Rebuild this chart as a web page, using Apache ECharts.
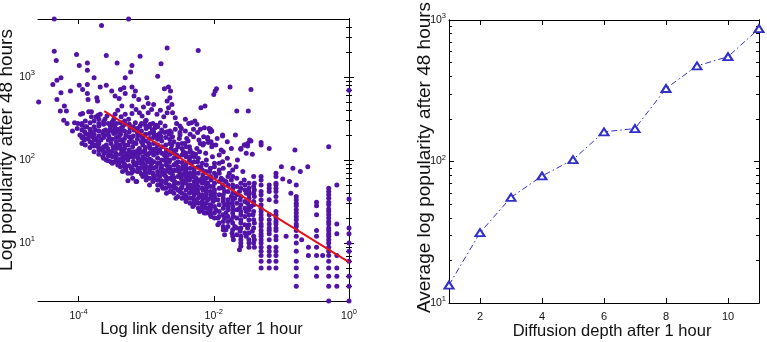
<!DOCTYPE html>
<html>
<head>
<meta charset="utf-8">
<script src="https://cdn.jsdelivr.net/npm/echarts@6.0.0/dist/echarts.min.js"></script>
<style>
  html, body { margin: 0; padding: 0; background: #fff; }
  #chart { width: 767px; height: 342px; }
</style>
</head>
<body>
<div id="chart"></div>
<script>
// left panel: values are log10(link density), log10(popularity)
const densityTicks = [-4, -2, 0];
const popularityTicks = [1, 2, 3];
const fitLine = [[-3.62, 2.59], [0, 0.77]];

const sparsePosts = [
  [-4.36,3.70],[-3.26,3.70],[-3.66,3.62],[-4.36,3.31],[-4.33,3.20],[-4.03,3.27],[-3.59,3.26],[-2.69,3.35],
  [-2.23,3.32],[-3.09,3.25],[-3.99,3.14],[-3.87,3.17],[-3.87,3.08],[-3.21,3.14],[-3.43,3.17],[-2.78,3.16],
  [-3.23,3.06],[-4.26,2.99],[-4.32,2.96],[-4.38,2.91],[-3.77,2.99],[-3.31,2.99],[-2.83,3.01],[-4.59,2.70],
  [-4.26,2.81],[-4.32,2.73],[-4.21,2.65],[-4.12,2.83],[-3.99,2.90],[-3.94,2.85],[-3.87,2.91],[-3.87,2.80],
  [-3.86,2.73],[-3.73,2.75],[-3.72,2.71],[-3.68,2.88],[-3.59,2.90],[-3.51,2.83],[-3.46,2.77],[-3.40,2.74],
  [-3.38,2.85],[-3.33,2.87],[-3.31,2.80],[-3.21,2.88],[-3.16,2.83],[-3.18,2.77],[-3.11,2.73],[-2.99,2.75],
  [-2.97,2.68],[-2.67,2.88],[-2.64,2.83],[-2.65,2.75],[-2.69,2.71],[-2.62,2.67],[-2.73,2.86],[-2.00,2.79],
  [-1.98,2.83],[-1.96,2.86],[-1.76,2.88],[-1.45,2.85],[0,2.84],[-2.19,2.63],[-2.13,2.65],[-1.66,2.59],[-1.49,2.59],
  [-4.27,2.59],[-4.18,2.59],[-4.22,2.48],[-4.17,2.44],[-4.09,2.35],[-4.06,2.45],[-4.01,2.44],[-3.97,2.55],
  [-3.94,2.56],[-3.85,2.58],[-3.81,2.58],[-3.81,2.52],[-3.74,2.52],[-3.71,2.54]
];

const cloudPosts = [
  [-3.91,2.34],[-3.89,2.31],[-3.84,2.32],[-3.81,2.34],[-3.94,2.28],[-3.86,2.26],[-3.79,2.28],[-3.74,2.26],
  [-3.71,2.22],[-3.67,2.24],[-3.64,2.32],[-3.62,2.30],[-3.71,2.16],[-3.69,2.14],[-3.64,2.12],[-3.59,2.18],
  [-3.57,2.14],[-3.52,2.20],[-3.49,2.16],[-3.44,2.22],[-3.39,2.18],[-3.34,2.22],[-3.32,2.14],[-3.27,2.18],
  [-3.25,2.12],[-3.20,2.16],[-3.15,2.20],[-3.10,2.14],[-3.05,2.18],[-3.02,2.12],[-3.64,2.04],[-3.59,2.00],
  [-3.52,2.06],[-3.44,2.02],[-3.34,2.04],[-3.27,2.00],[-3.20,2.06],[-3.12,2.02],[-3.05,2.04],
  [-3.68,2.55],[-3.61,2.49],[-3.58,2.53],[-3.53,2.41],[-3.48,2.49],[-3.46,2.55],[-3.42,2.60],[-3.37,2.52],
  [-3.36,2.65],[-3.31,2.55],[-3.26,2.49],[-3.21,2.56],[-3.21,2.65],[-3.15,2.61],[-3.10,2.57],[-3.06,2.53],
  [-3.04,2.64],[-2.97,2.57],[-2.92,2.61],[-2.89,2.67],[-2.84,2.55],[-2.79,2.60],[-2.74,2.52],[-2.69,2.57],
  [-2.67,2.63],[-2.61,2.57],[-2.57,2.51],[-2.55,2.44],[-2.50,2.41],[-2.42,2.49],[-2.37,2.44],[-2.33,2.45],
  [-2.28,2.47],[-2.25,2.43],[-2.20,2.37],[-2.14,2.39],[-2.06,2.37],[-2.04,2.35],[-2.30,2.37],[-3.53,2.37],
  [-3.46,2.39],[-3.38,2.35],[-3.31,2.43],[-3.24,2.39],[-3.16,2.45],[-3.09,2.41],[-3.01,2.47],[-2.94,2.43],
  [-2.87,2.39],[-2.79,2.45],[-2.72,2.41],[-2.65,2.35],[-2.57,2.37],[-2.50,2.33],[-2.42,2.35],[-2.35,2.31],
  [-3.55,2.28],[-3.48,2.32],[-3.40,2.28],[-3.30,2.30],[-3.22,2.26],[-3.12,2.30],[-3.05,2.26],[-3.60,2.36],
  [-3.35,2.40],[-3.18,2.36],[-3.00,2.38],[-3.45,2.08],[-3.36,2.10],[-3.28,2.06],[-3.15,2.08],[-3.08,1.96],
  [-3.18,1.94],[-3.30,1.92],[-3.40,1.96],[-3.52,1.98],[-3.62,2.08],[-3.75,2.18],[-3.80,2.20],[-3.92,2.24],
  [-3.98,2.30],[-4.02,2.38],[-3.95,2.42],[-3.88,2.40],[-3.70,2.44],[-3.75,2.36],[-3.10,1.86],[-3.02,1.90],
  [-3.22,1.84],[-3.35,1.86],[-2.92,1.96],[-3.05,1.80],[-3.20,1.78],
  [-3.47,1.98],[-3.42,1.94],[-3.34,1.98],[-3.32,1.92],[-3.30,1.88],[-3.27,1.84],[-3.22,1.90],[-3.20,1.86],
  [-3.15,1.94],[-3.12,1.90],[-3.05,1.96],[-3.02,1.88],[-3.15,1.74],[-3.00,1.76],[-3.27,1.75],
  [-3.00,2.48],[-2.90,2.44],[-2.85,2.42],[-2.83,2.40],[-2.91,2.36],[-2.88,2.30],[-2.80,2.32],[-2.78,2.28],
  [-2.73,2.33],[-2.69,2.34],[-2.66,2.31],[-2.63,2.33],[-2.61,2.28],[-2.48,2.38],[-2.50,2.30],[-2.51,2.26],
  [-2.38,2.23],[-2.43,2.20],[-2.36,2.16],[-2.24,2.33],[-2.07,2.38],[-2.05,2.34],[-2.09,2.25],[-2.04,2.22],
  [-2.02,2.18],[-1.87,2.30],[-2.20,2.20],[-2.16,2.18],[-2.21,2.10],[-1.97,2.18],[-1.89,2.12],[-1.86,2.10],
  [-1.74,2.14],[-1.60,2.13],[-1.55,2.18],[-1.50,2.20],[-1.52,2.08],[-1.43,2.07],[-2.31,2.08],[-2.27,2.07],
  [-2.96,2.20],[-2.94,2.14],[-2.90,2.10],[-2.85,2.14],[-2.80,2.12],[-2.73,2.06],[-2.70,2.12],[-2.63,2.14],
  [-2.59,2.08],[-2.56,2.12],[-2.53,2.16],[-2.36,2.00],[-2.41,2.04],
  [-2.05,2.37],[-2.03,2.35],[-2.09,2.27],[-2.08,2.21],[-2.15,2.20],[-2.03,2.16],[-1.87,2.29],[-1.47,2.24],
  [-1.30,2.21],[-1.30,2.18],[-1.18,2.14],[-1.60,2.14],[-1.54,2.18],[-0.80,2.12],[-1.50,2.17],[-1.45,2.23],
  [-3.10,2.08],[-2.98,2.06],[-2.84,2.08],[-2.70,2.04],[-2.55,2.06],[-2.45,2.10],[-2.35,2.12],[-2.25,2.14],
  [-2.12,2.08],[-2.02,2.04],[-1.92,2.06],[-1.80,2.02],[-1.65,2.00],[-2.62,2.18],[-2.47,2.20],[-2.22,2.24],
  [-2.15,2.28],[-1.95,2.26],[-1.80,2.22],[-1.68,2.30],[-2.40,2.26],[-2.30,2.28],
  [-2.98,1.98],[-2.93,1.94],[-2.95,1.88],[-2.90,1.84],[-2.85,1.92],[-2.83,1.86],[-2.88,1.78],[-2.80,1.80],
  [-2.75,1.88],[-2.73,1.82],[-2.70,1.76],[-2.78,1.72],[-2.70,1.94],[-2.66,1.98],[-2.63,1.88],[-2.61,1.82],
  [-2.66,1.70],[-2.58,1.74],[-2.56,1.66],[-2.53,1.92],[-2.50,1.84],[-2.48,1.78],[-2.46,1.72],[-2.50,1.62],
  [-2.43,1.58],[-2.41,1.90],[-2.38,1.82],[-2.36,1.76],[-2.38,1.68],[-2.33,1.62],[-2.31,1.54],[-2.29,1.86],
  [-2.26,1.78],[-2.26,1.70],[-2.24,1.64],[-2.21,1.56],[-2.19,1.48],[-2.19,1.92],[-2.16,1.82],[-2.14,1.74],
  [-2.11,1.66],[-2.11,1.58],[-2.09,1.52],[-2.09,1.42],[-2.06,1.86],[-2.04,1.76],[-2.01,1.68],[-1.99,1.60],
  [-2.01,1.50],[-1.97,1.40],[-1.94,1.30],[-1.92,1.88],[-1.89,1.78],[-1.87,1.70],[-1.84,1.62],[-1.86,1.54],
  [-1.84,1.46],[-1.82,1.36],[-1.79,1.26],[-1.82,1.16],[-1.77,1.84],[-1.74,1.76],[-1.72,1.66],[-1.74,1.56],
  [-1.73,1.48],[-1.72,1.40],[-1.71,1.32],[-1.69,1.20],[-1.77,1.94],[-1.62,1.62],[-1.61,1.52],[-1.62,1.42],
  [-1.60,1.34],[-1.60,1.24],[-1.61,1.14],[-1.60,1.04],[-1.62,0.92],[-1.57,1.86],[-1.55,1.76],[-1.52,1.60],
  [-1.50,1.48],[-1.52,1.38],[-1.48,1.28],[-1.50,1.18],[-1.52,1.08],[-1.45,1.44],[-1.42,1.34],[-1.40,1.24],
  [-1.43,1.14],[-3.00,1.80],[-2.95,1.70],[-2.83,1.64],[-2.70,1.60],[-3.14,1.74],
  [-2.93,2.00],[-2.80,1.96],[-2.68,1.90],[-2.56,1.96],[-2.46,1.92],[-2.33,1.96],[-2.24,1.98],[-2.11,1.94],
  [-1.99,1.96],[-1.87,1.98],[-1.67,1.92],[-2.58,1.88],[-2.43,1.84],[-2.31,1.80],[-2.21,1.76],[-2.09,1.72],
  [-1.97,1.80],[-1.82,1.74],[-2.41,1.76],[-2.29,1.70],[-2.16,1.64],[-2.04,1.58],[-1.94,1.52],[-1.79,1.48],
  [-1.69,1.54],[-2.36,1.60],[-2.26,1.52],[-2.14,1.46],[-2.04,1.44],[-1.92,1.38],[-1.79,1.40],[-2.48,1.66],
  [-2.61,1.76],[-2.78,1.90],[-2.90,1.74],[-2.75,1.66],[-2.63,1.62],[-2.56,1.54],[-2.41,1.50],[-2.31,1.44],
  [-2.21,1.38],[-2.14,1.36],[-2.04,1.32],[-1.94,1.22],[-1.84,1.30],[-1.86,1.20],[-1.74,1.28],[-1.73,1.12],
  [-1.71,1.04],[-1.84,1.10],[-2.06,1.38],[-2.16,1.54],[-2.29,1.62],
  [-1.40,1.56],[-1.40,1.64],[-1.40,1.04],[-1.40,0.95],[-1.40,1.72],[-1.48,1.54],[-1.48,1.00],[-1.48,0.95],
  [-1.48,1.66]
];

const corePosts = [
  [-3.95,2.20],[-3.95,2.27],[-3.95,2.36],[-3.95,2.44],[-3.90,2.18],[-3.90,2.25],[-3.90,2.40],[-3.90,2.47],
  [-3.83,2.15],[-3.83,2.22],[-3.83,2.29],[-3.83,2.37],[-3.83,2.45],
  [-3.77,2.10],[-3.77,2.17],[-3.77,2.24],[-3.77,2.31],[-3.77,2.40],[-3.77,2.47],
  [-3.70,2.07],[-3.70,2.12],[-3.70,2.20],[-3.70,2.29],[-3.70,2.35],[-3.70,2.41],[-3.70,2.49],
  [-3.63,2.02],[-3.63,2.10],[-3.63,2.16],[-3.63,2.27],[-3.63,2.35],[-3.63,2.43],[-3.63,2.46],
  [-3.56,1.99],[-3.56,2.05],[-3.56,2.10],[-3.56,2.24],[-3.56,2.30],[-3.56,2.34],[-3.56,2.44],
  [-3.50,1.96],[-3.50,2.04],[-3.50,2.11],[-3.50,2.25],[-3.50,2.35],[-3.50,2.42],[-3.50,2.46],
  [-3.44,2.00],[-3.44,2.06],[-3.44,2.14],[-3.44,2.18],[-3.44,2.27],[-3.44,2.33],[-3.44,2.37],[-3.44,2.44],
  [-3.38,1.92],[-3.38,2.01],[-3.38,2.07],[-3.38,2.14],[-3.38,2.24],[-3.38,2.31],[-3.38,2.38],[-3.38,2.45],
  [-3.32,1.95],[-3.32,2.02],[-3.32,2.09],[-3.32,2.18],[-3.32,2.26],[-3.32,2.35],[-3.32,2.47],
  [-3.25,1.93],[-3.25,2.04],[-3.25,2.09],[-3.25,2.22],[-3.25,2.28],[-3.25,2.34],[-3.25,2.43],
  [-3.19,1.88],[-3.19,1.98],[-3.19,2.03],[-3.19,2.10],[-3.19,2.21],[-3.19,2.29],[-3.19,2.40],
  [-3.13,1.86],[-3.13,1.97],[-3.13,2.05],[-3.13,2.11],[-3.13,2.25],[-3.13,2.33],[-3.13,2.38],
  [-3.07,1.83],[-3.07,1.91],[-3.07,2.00],[-3.07,2.10],[-3.07,2.22],[-3.07,2.29],[-3.07,2.35],[-3.07,2.44],
  [-3.01,1.84],[-3.01,1.93],[-3.01,2.01],[-3.01,2.08],[-3.01,2.15],[-3.01,2.23],[-3.01,2.31],[-3.01,2.42],
  [-2.95,1.78],[-2.95,1.85],[-2.95,1.91],[-2.95,2.01],[-2.95,2.08],[-2.95,2.17],[-2.95,2.26],[-2.95,2.32],[-2.95,2.40],
  [-2.89,1.76],[-2.89,1.81],[-2.89,1.90],[-2.89,1.98],[-2.89,2.06],[-2.89,2.13],[-2.89,2.20],[-2.89,2.27],[-2.89,2.34],
  [-2.83,1.70],[-2.83,1.76],[-2.83,1.82],[-2.83,1.96],[-2.83,2.02],[-2.83,2.10],[-2.83,2.18],[-2.83,2.25],[-2.83,2.30],
  [-2.77,1.68],[-2.77,1.75],[-2.77,1.85],[-2.77,1.93],[-2.77,2.00],[-2.77,2.08],[-2.77,2.16],[-2.77,2.23],[-2.77,2.36],
  [-2.71,1.66],[-2.71,1.72],[-2.71,1.80],[-2.71,1.86],[-2.71,1.98],[-2.71,2.02],[-2.71,2.09],[-2.71,2.18],[-2.71,2.27],
  [-2.65,1.62],[-2.65,1.68],[-2.65,1.78],[-2.65,1.85],[-2.65,1.92],[-2.65,2.00],[-2.65,2.07],[-2.65,2.20],[-2.65,2.25],
  [-2.59,1.60],[-2.59,1.66],[-2.59,1.70],[-2.59,1.79],[-2.59,1.87],[-2.59,1.94],[-2.59,2.02],[-2.59,2.10],[-2.59,2.22],
  [-2.53,1.56],[-2.53,1.64],[-2.53,1.72],[-2.53,1.80],[-2.53,1.87],[-2.53,1.98],[-2.53,2.04],[-2.53,2.19],
  [-2.47,1.54],[-2.47,1.60],[-2.47,1.68],[-2.47,1.75],[-2.47,1.82],[-2.47,1.89],[-2.47,1.97],[-2.47,2.06],[-2.47,2.14],
  [-2.41,1.52],[-2.41,1.56],[-2.41,1.64],[-2.41,1.72],[-2.41,1.80],[-2.41,1.86],[-2.41,1.95],[-2.41,2.08],[-2.41,2.16],
  [-2.35,1.48],[-2.35,1.54],[-2.35,1.66],[-2.35,1.70],[-2.35,1.78],[-2.35,1.84],[-2.35,1.90],[-2.35,2.04],[-2.35,2.10],
  [-2.29,1.46],[-2.29,1.50],[-2.29,1.58],[-2.29,1.66],[-2.29,1.74],[-2.29,1.82],[-2.29,1.90],[-2.29,1.98],[-2.29,2.04],
  [-2.23,1.42],[-2.23,1.48],[-2.23,1.54],[-2.23,1.60],[-2.23,1.68],[-2.23,1.74],[-2.23,1.84],[-2.23,1.92],[-2.23,2.02],
  [-2.17,1.40],[-2.17,1.44],[-2.17,1.50],[-2.17,1.58],[-2.17,1.66],[-2.17,1.72],[-2.17,1.78],[-2.17,1.88],[-2.17,1.96],
  [-2.11,1.36],[-2.11,1.42],[-2.11,1.48],[-2.11,1.54],[-2.11,1.62],[-2.11,1.70],[-2.11,1.78],[-2.11,1.86],[-2.11,2.00],
  [-2.05,1.34],[-2.05,1.40],[-2.05,1.46],[-2.05,1.54],[-2.05,1.62],[-2.05,1.68],[-2.05,1.80],[-2.05,1.90],
  [-1.99,1.30],[-1.99,1.36],[-1.99,1.44],[-1.99,1.52],[-1.99,1.56],[-1.99,1.64],[-1.99,1.72],[-1.99,1.84],[-1.99,1.92],
  [-1.92,1.24],[-1.92,1.32],[-1.92,1.46],[-1.92,1.58],[-1.92,1.66],[-1.92,1.74],[-1.92,1.84],[-1.92,1.96],
  [-1.86,1.16],[-1.86,1.26],[-1.86,1.34],[-1.86,1.42],[-1.86,1.50],[-1.86,1.58],[-1.86,1.66],[-1.86,1.76],[-1.86,1.90],
  [-1.79,1.20],[-1.79,1.32],[-1.79,1.44],[-1.79,1.52],[-1.79,1.62],[-1.79,1.70],[-1.79,1.80],
  [-1.72,1.08],[-1.72,1.16],[-1.72,1.24],[-1.72,1.36],[-1.72,1.44],[-1.72,1.52],[-1.72,1.60],[-1.72,1.70],[-1.72,1.80],[-1.72,1.88],
  [-1.66,1.10],[-1.66,1.18],[-1.66,1.30],[-1.66,1.40],[-1.66,1.48],[-1.66,1.58],[-1.66,1.68],[-1.66,1.78],
  [-1.60,0.96],[-1.60,1.00],[-1.60,1.08],[-1.60,1.18],[-1.60,1.28],[-1.60,1.38],[-1.60,1.46],[-1.60,1.56],[-1.60,1.66],[-1.60,1.72],
  [-1.54,1.12],[-1.54,1.22],[-1.54,1.32],[-1.54,1.42],[-1.54,1.50],[-1.54,1.64],[-1.54,1.70],
  [-1.48,1.04],[-1.48,1.12],[-1.48,1.22],[-1.48,1.34],[-1.48,1.40],[-1.48,1.44],[-1.48,1.58],[-1.48,1.62],[-1.48,1.72],
  [-1.41,1.00],[-1.41,1.08],[-1.41,1.18],[-1.41,1.28],[-1.41,1.38],[-1.41,1.46],[-1.41,1.50],[-1.41,1.60],[-1.41,1.68],[-1.41,1.80]
];

// density columns k/n with integer popularities
const columnPosts = [
  [-1.30,1.80],[-1.30,1.76],[-1.30,1.70],[-1.30,1.62],[-1.30,1.58],[-1.30,1.52],[-1.30,1.46],[-1.30,1.42],
  [-1.30,1.38],[-1.30,1.34],[-1.30,1.30],[-1.30,1.28],[-1.30,1.23],[-1.30,1.20],[-1.30,1.15],[-1.30,1.11],
  [-1.30,1.08],[-1.30,1.04],[-1.30,1.00],[-1.30,0.95],[-1.30,0.90],[-1.30,0.85],[-1.30,0.78],[-1.30,0.70],
  [-1.18,1.70],[-1.18,1.66],[-1.18,1.62],[-1.18,1.52],[-1.18,1.34],[-1.18,1.28],[-1.18,1.23],[-1.18,1.18],
  [-1.18,1.15],[-1.18,1.11],[-1.18,1.04],[-1.18,0.95],[-1.18,0.90],[-1.18,0.85],[-1.18,0.78],[-1.18,0.70],
  [-1.08,1.84],[-1.08,1.80],[-1.08,1.72],[-1.08,1.70],[-1.08,1.66],[-1.08,1.62],[-1.08,1.56],[-1.08,1.50],
  [-1.08,1.38],[-1.08,1.34],[-1.08,1.30],[-1.08,1.26],[-1.08,1.23],[-1.08,1.18],[-1.08,1.15],[-1.08,1.08],
  [-1.08,1.04],[-1.08,0.95],[-1.08,0.90],[-1.08,0.85],[-1.08,0.78],[-1.08,0.70],
  [-1.00,1.92],[-0.93,1.08],[-0.86,1.60],[-0.83,1.90],[-0.72,1.86],[-0.61,1.92],[-0.98,1.77],[-0.88,1.74],
  [-0.78,1.70],[-0.78,1.56],[-0.78,1.52],[-0.78,1.48],[-0.78,1.45],[-0.78,1.40],[-0.78,1.36],[-0.78,1.32],
  [-0.78,1.28],[-0.78,1.23],[-0.78,1.20],[-0.78,1.15],[-0.78,1.08],[-0.78,1.00],[-0.78,0.90],[-0.78,0.78],
  [-0.78,0.70],[-0.78,0.60],[-0.78,0.48],
  [-0.70,1.04],[-0.60,0.95],[-0.60,0.85],
  [-0.48,1.49],[-0.48,1.45],[-0.48,1.34],[-0.48,1.15],[-0.48,1.08],[-0.48,0.95],[-0.48,0.85],[-0.48,0.70],
  [-0.48,0.60],[-0.39,0.85],
  [-0.30,2.16],[-0.30,1.66],[-0.30,1.62],[-0.30,1.58],[-0.30,1.54],[-0.30,1.49],[-0.30,1.46],[-0.30,1.41],
  [-0.30,1.38],[-0.30,1.34],[-0.30,1.30],[-0.30,1.26],[-0.30,1.23],[-0.30,1.18],[-0.30,1.15],[-0.30,1.11],
  [-0.30,1.08],[-0.30,1.04],[-0.30,1.00],[-0.30,0.95],[-0.30,0.90],[-0.30,0.85],[-0.30,0.78],[-0.30,0.70],
  [-0.30,0.60],[-0.30,0.48],[-0.30,0.30],
  [-0.18,1.70],[-0.18,1.23],[-0.18,1.11],[-0.18,0.85],[-0.18,0.70],[-0.18,0.60],[-0.18,0.48],
  [0,1.53],[0,1.18],[0,1.11],[0,1.00],[0,0.90],[0,0.78],[0,0.60],[0,0.48],[0,0.30]
];

// right panel
const depthTicks = [2, 4, 6, 8, 10];
const avgTicks = [1, 2, 3];
const depth = [1, 2, 3, 4, 5, 6, 7, 8, 9, 10, 11];
const avgPopularity = [13.4, 31.4, 55.8, 79, 103, 162, 171, 328, 474, 550, 870];

const sans = "'Liberation Sans', Arial, sans-serif";

function minorTicks(lo, hi) {
    const out = [];
    for (let e = Math.floor(lo); e < hi; e++) {
        for (let m = 2; m <= 9; m++) {
            const v = e + Math.log10(m);
            if (v > lo + 1e-6 && v < hi - 1e-6) out.push(v);
        }
    }
    return out;
}

function powLabel(margin) {
    return {
        margin,
        formatter: v => '{b|10}{s|' + Math.round(v) + '}',
        rich: {
            b: { fontSize: 10.5, fontFamily: sans, color: '#111' },
            s: { fontSize: 7.5, fontFamily: sans, color: '#111', padding: [0, 0, 8, 0] }
        }
    };
}

const line = { show: true, lineStyle: { color: '#000', width: 1 } };

function frameX(gridIndex, min, max, ticks, pos, label, name, nameGap) {
    return {
        type: 'value', gridIndex, min, max, position: pos,
        axisLine: line,
        splitLine: { show: false },
        axisTick: { show: true, inside: true, length: 5, customValues: ticks, lineStyle: { color: '#000' } },
        axisLabel: label ? Object.assign({ customValues: ticks }, label) : { show: false },
        name: name || '', nameLocation: 'middle', nameGap: nameGap || 0, nameMoveOverlap: false,
        nameTextStyle: { fontFamily: sans, fontSize: 16.5, color: '#111', padding: [0, 0, 0, 16] }
    };
}

function frameY(gridIndex, min, max, ticks, pos, len, label, name, nameGap, shift) {
    return {
        type: 'value', gridIndex, min, max, position: pos,
        axisLine: line,
        splitLine: { show: false },
        axisTick: { show: true, inside: true, length: len, customValues: ticks, lineStyle: { color: '#000' } },
        axisLabel: label ? Object.assign({ customValues: ticks }, label) : { show: false },
        name: name || '', nameLocation: 'middle', nameGap: nameGap || 0, nameRotate: 90, nameMoveOverlap: false,
        nameTextStyle: { fontFamily: sans, fontSize: 19, color: '#111', padding: [0, 0, 0, shift || 0] }
    };
}

const yLo = Math.log10(2), yHi = Math.log10(5000);

const chart = echarts.init(document.getElementById('chart'));
chart.setOption({
    animation: false,
    backgroundColor: '#fff',
    grid: [
        { left: 38, top: 19, width: 311, height: 282, outerBoundsMode: 'none', containLabel: false },
        { left: 449, top: 20, width: 310, height: 283, outerBoundsMode: 'none', containLabel: false }
    ],
    xAxis: [
        frameX(0, -4.6, 0, densityTicks, 'bottom', powLabel(7), 'Log link density after 1 hour', 20),
        frameX(0, -4.6, 0, densityTicks, 'top', null),
        frameX(1, 1, 11, depthTicks, 'bottom', { fontSize: 11, fontFamily: sans, color: '#111', margin: 8 },
            'Diffusion depth after 1 hour', 20),
        frameX(1, 1, 11, depthTicks, 'top', null)
    ],
    yAxis: [
        frameY(0, yLo, yHi, popularityTicks, 'left', 5, powLabel(3), 'Log popularity after 48 hours', 22, 20),
        frameY(0, yLo, yHi, minorTicks(yLo, yHi), 'left', 3, null),
        frameY(0, yLo, yHi, popularityTicks, 'right', 5, null),
        frameY(0, yLo, yHi, minorTicks(yLo, yHi), 'right', 3, null),
        frameY(1, 1, 3, avgTicks, 'left', 5, powLabel(3), 'Average log popularity after 48 hours', 15, 8),
        frameY(1, 1, 3, minorTicks(1, 3), 'left', 3, null),
        frameY(1, 1, 3, avgTicks, 'right', 5, null),
        frameY(1, 1, 3, minorTicks(1, 3), 'right', 3, null)
    ],
    series: [
        {
            type: 'scatter', xAxisIndex: 0, yAxisIndex: 0,
            data: sparsePosts.concat(cloudPosts, corePosts, columnPosts),
            symbol: 'circle', symbolSize: 5, clip: false,
            itemStyle: { color: '#5114a6', opacity: 1 }
        },
        {
            type: 'line', xAxisIndex: 0, yAxisIndex: 0,
            data: fitLine, symbol: 'none',
            lineStyle: { color: '#e0141c', width: 2 }
        },
        {
            type: 'line', xAxisIndex: 2, yAxisIndex: 4,
            data: depth.map((d, i) => [d, Math.log10(avgPopularity[i])]),
            symbol: 'emptyTriangle', symbolSize: [9, 7], clip: false,
            itemStyle: { color: '#3030c8', borderWidth: 1 },
            lineStyle: { color: '#3030c8', width: 1, type: [6, 3, 1.5, 3] }
        }
    ]
});
</script>
</body>
</html>
